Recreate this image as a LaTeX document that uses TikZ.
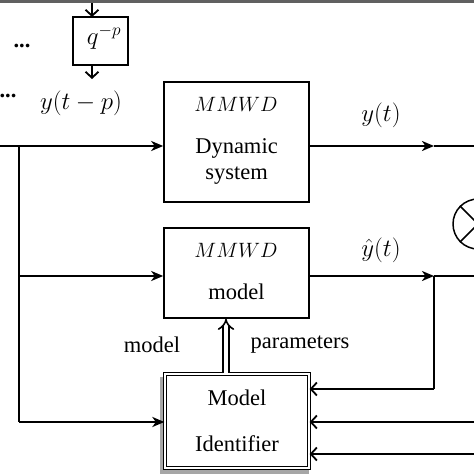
\documentclass[tikz,border=0pt]{standalone}
\usepackage{fontspec}
\setmainfont{Liberation Serif}
\usetikzlibrary{arrows.meta}
\begin{document}
\begin{tikzpicture}[x=1pt,y=-1pt,
  blk/.style={draw, line width=1.6pt, fill=white, inner sep=0pt},
  txt/.style={font=\fontsize{22.5}{26}\selectfont, inner sep=0pt},
  mathlab/.style={font=\fontsize{25}{28}\selectfont, inner sep=0pt},
  mtxt/.style={font=\fontsize{19.5}{23}\selectfont, inner sep=0pt},
  sig/.style={line width=2.4pt, -{Stealth[length=12pt,width=10pt,inset=3.5pt]}},
  barb/.style={line width=2.2pt, -{Straight Barb[length=6pt,width=13pt,line width=1.8pt]}},
  plain/.style={line width=2.4pt}]
\useasboundingbox (0,0) rectangle (474,474);
% top gray bar
\fill[gray!75!black] (0,0) rectangle (474,3);
% delay block
\node[blk, minimum width=55pt, minimum height=48pt] (qp) at (100.5,41) {};
\node[mathlab] (qplab) at (104,37) {$q^{-p}$};
\coordinate (qtop) at (92,3);
\coordinate (qin) at (92,17);
\coordinate (qout) at (92,65);
\coordinate (qend) at (92,79);
\draw[barb] (qtop) -- (qin);
\draw[barb] (qout) -- (qend);
\node[txt] (dots1) at (22,46) {\textbf{...}};
\node[txt] (dots2) at (8,96) {\textbf{...}};
\node[mathlab] (ytp) at (81,103) {$y(t-p)$};
% dynamic system
\node[blk, minimum width=145pt, minimum height=120pt] (sys) at (236.5,142) {};
\node[mtxt] (sysm) at (236,104) {$MMWD$};
\node[txt] (sys1) at (236.5,148) {Dynamic};
\node[txt] (sys2) at (236.5,176) {system};
% model
\node[blk, minimum width=145pt, minimum height=90pt] (mod) at (236.5,273) {};
\node[mtxt] (modm) at (236,250) {$MMWD$};
\node[txt] (mod1) at (236.5,292) {model};
% identifier with shadow
\fill[gray!70] (160,377) rectangle (309,474);
\node[draw, double, double distance=2.2pt, line width=1.3pt, fill=white,
      minimum width=144pt, minimum height=94pt] (idf) at (237,421) {};
\node[txt] (idf1) at (237,398) {Model};
\node[txt] (idf2) at (237,444) {Identifier};
% labels
\node[mathlab] (ylab) at (381,115) {$y(t)$};
\node[mathlab] (yhlab) at (381,250) {$\hat{y}(t)$};
\node[txt] (plab1) at (152,345) {model};
\node[txt] (plab2) at (300,345) {parameters};
% input lines
\coordinate (in0) at (0,146);
\coordinate (j1) at (19,146);
\coordinate (j2) at (19,276);
\coordinate (j3) at (19,422);
\draw[sig] (in0) -- (sys.west |- in0);
\draw[plain] (j1) -- (j3);
\draw[sig] (j2) -- (mod.west |- j2);
\draw[sig] (j3) -- (idf.west |- j3);
% outputs
\coordinate (yA) at (434,146);
\coordinate (yB) at (474,146);
\draw[sig] (sys.east |- yA) -- (yA);
\draw[plain] (yA) -- (yB);
\coordinate (hA) at (434,276);
\coordinate (hB) at (474,276);
\coordinate (hC) at (434,389);
\draw[sig] (mod.east |- hA) -- (hA);
\draw[plain] (hA) -- (hB);
\draw[plain] (hA) -- (hC);
\draw[barb] (hC) -- (idf.east |- hC);
\coordinate (r2) at (474,422);
\coordinate (r3) at (474,454);
\draw[barb] (r2) -- (idf.east |- r2);
\draw[barb] (r3) -- (idf.east |- r3);
% summing junction
\node[draw, circle, line width=1.5pt, minimum size=50pt, inner sep=0pt] (sum) at (478,224) {};
\draw[line width=1.5pt] (sum.center) -- (sum.135);
\draw[line width=1.5pt] (sum.center) -- (sum.225);
% parameter arrow
\draw[line width=1.6pt, double, double distance=4pt, -{Implies}] (idf.north -| 226,0) -- (mod.south -| 226,0);
\end{tikzpicture}
\end{document}
